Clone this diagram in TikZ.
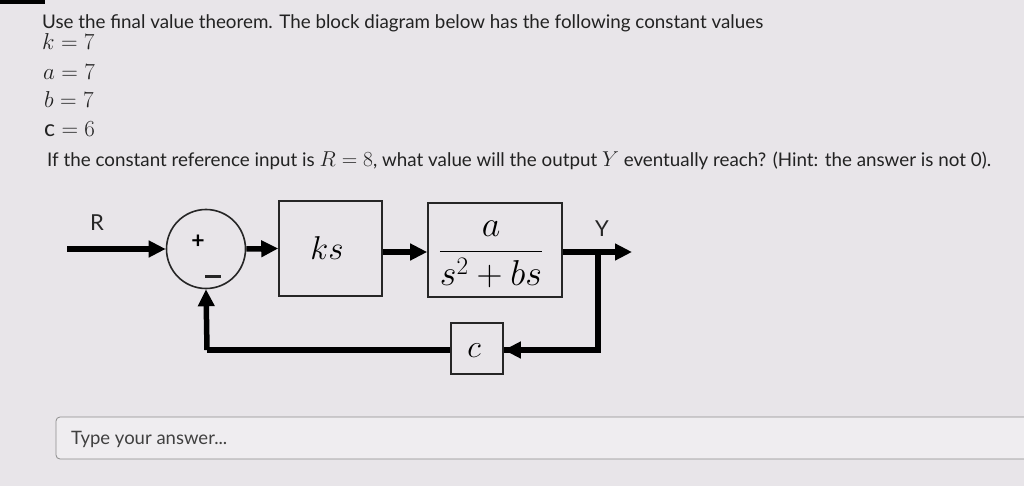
\RequirePackage{fix-cm}
\documentclass[tikz,border=0pt]{standalone}
\usepackage{amsmath}
\usepackage{fontspec}
\setmainfont{Lato}
\usetikzlibrary{arrows.meta}
\definecolor{bg}{HTML}{E8E5E9}
\definecolor{ink}{HTML}{222222}
\newcommand{\mathbig}[1]{{\fontsize{21.5}{22}\selectfont$#1$}}
\begin{document}
\begin{tikzpicture}[x=1pt,y=-1pt,
  txt/.style={anchor=base west,inner sep=0pt,text=ink,font=\fontsize{18.8}{22}\selectfont},
  eq/.style={anchor=base west,inner sep=0pt,text=ink,font=\fontsize{23}{26}\selectfont},
  blk/.style={draw=black!85,line width=1.6pt,fill=none,inner sep=0pt},
  sig/.style={line width=5.5pt,-{Triangle[length=17pt,width=16pt]}},
  line/.style={line width=5.5pt},
  lab/.style={inner sep=0pt,text=black!85,font=\fontsize{22}{24}\selectfont}]
\useasboundingbox (0,0) rectangle (1024,486);
\fill[bg] (0,0) rectangle (1024,486);
\fill[black] (0,0) rectangle (45,4);
% text
\node[txt] (t1) at (42,29) {Use the final value theorem. The block diagram below has the following constant values};
\node[eq] (ek) at (42,50) {$k=7$};
\node[eq] (ea) at (43,80) {$a=7$};
\node[eq] (eb) at (44,108) {$b=7$};
\node[eq] (ec) at (44,137) {$\mathrm{c}=6$};
\node[txt] (t2) at (47,167) {If the constant reference input is \mathbig{R=8}, what value will the output \mathbig{Y} eventually reach? (Hint: the answer is not 0).};
% diagram
\coordinate (in) at (67,249);
\node[lab] (R) at (97,223) {R};
\node[draw=black!85,line width=1.6pt,circle,minimum size=79pt,inner sep=0pt] (sum) at (206,249) {};
\node[inner sep=0pt,font=\fontsize{23}{24}\selectfont\bfseries] (plus) at (198,242) {+};
\node[fill=black!85,minimum width=16pt,minimum height=3pt,inner sep=0pt] (minus) at (213,276) {};
\node[blk,minimum width=103pt,minimum height=95pt] (ks) at (330.5,248.5) {};
\node[inner sep=0pt,font=\fontsize{33}{34}\selectfont] (kst) at (327,248) {$ks$};
\node[blk,minimum width=134pt,minimum height=94pt] (G) at (495,250) {};
\node[inner sep=0pt,font=\fontsize{36}{38}\selectfont] (Gt) at (491,254) {$\dfrac{a}{s^2+bs}$};
\node[blk,minimum width=52pt,minimum height=51pt] (C) at (477,348.5) {};
\node[inner sep=0pt,font=\fontsize{32}{34}\selectfont] (Ct) at (474,351) {$c$};
\node[lab] (Y) at (602,229) {Y};
\coordinate (br) at (598,252);
\coordinate (out) at (632,252);
\coordinate (fbr) at (598,350);
\coordinate (fbl) at (207,350);
\draw[sig] (in) -- (sum.west);
\draw[sig] (sum.east) -- (ks.west);
\draw[sig] (ks.east |- 0,252) -- (G.west |- 0,252);
\draw[sig] (G.east |- out) -- (out);
\draw[line] (br) -- (fbr) -- (C.east |- fbr);
\draw[sig] (fbr) -- (C.east |- fbr);
\draw[line] (C.west |- fbl) -- (fbl);
\draw[sig] (fbl) -- (sum.south);
% answer box
\draw[draw=black!45,line width=0.8pt,rounded corners=4pt,fill=bg!70!white] (56,417) rectangle (1040,459);
\node[anchor=base west,inner sep=0pt,text=black!75,font=\fontsize{18.5}{20}\selectfont] (ans) at (71,444) {Type your answer...};
\end{tikzpicture}
\end{document}
